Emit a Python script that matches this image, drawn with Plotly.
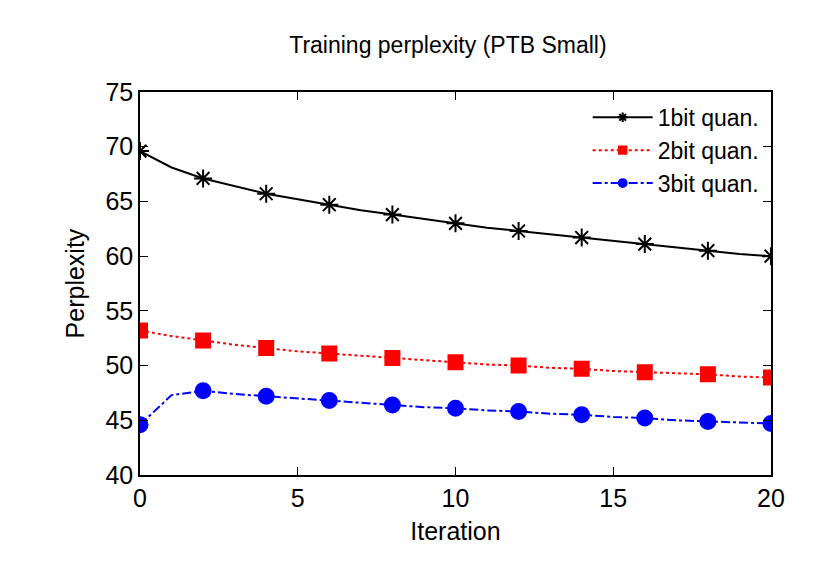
import plotly.graph_objects as go

iters = list(range(0, 21))
q1 = [69.6, 68.1, 67.1, 66.4, 65.7, 65.2, 64.7, 64.2, 63.8, 63.4, 63.0, 62.6, 62.3, 62.0, 61.7, 61.4, 61.1, 60.8, 60.5, 60.2, 60.0]
q2 = [53.2, 52.7, 52.3, 51.9, 51.6, 51.3, 51.1, 50.9, 50.7, 50.5, 50.3, 50.1, 50.0, 49.8, 49.7, 49.5, 49.4, 49.3, 49.2, 49.0, 48.9]
q3 = [44.6, 47.3, 47.7, 47.4, 47.2, 47.0, 46.8, 46.6, 46.4, 46.2, 46.1, 45.9, 45.8, 45.6, 45.5, 45.3, 45.2, 45.0, 44.9, 44.8, 44.7]
names = ["1bit quan.", "2bit quan.", "3bit quan."]

fig = go.Figure()
styles = [
    ("black", "solid", "asterisk-open", 15),
    ("red", "dot", "square", 14),
    ("blue", "dashdot", "circle", 15),
]
for y, n, (c, d, s, sz) in zip([q1, q2, q3], names, styles):
    sizes = [sz if i % 2 == 0 else 0 for i in iters]
    fig.add_trace(go.Scatter(x=iters, y=y, name=n, mode="lines+markers",
                             line=dict(color=c, dash=d, width=2),
                             marker=dict(symbol=s, size=sizes, color=c, opacity=1,
                                         line=dict(color=c, width=2))))

ax = dict(showline=True, mirror="ticks", linecolor="black", linewidth=1.5,
          ticks="inside", ticklen=8, tickcolor="black", showgrid=False, zeroline=False,
          tickfont=dict(size=25, color="black"))
fig.update_layout(
    width=830, height=577, plot_bgcolor="white", paper_bgcolor="white",
    font=dict(family="Liberation Sans, Arial, sans-serif", color="black"),
    margin=dict(l=132, r=67, t=84, b=110),
    title=dict(text="Training perplexity (PTB Small)", x=0.53, xanchor="center", y=0.95, font=dict(size=23)),
    xaxis=dict(range=[0, 20], dtick=5, title=dict(text="Iteration", font=dict(size=25), standoff=12), **ax),
    yaxis=dict(range=[40, 75], dtick=5, title=dict(text="Perplexity", font=dict(size=25), standoff=14), **ax),
    legend=dict(x=0.99, y=0.99, xanchor="right", yanchor="top", bgcolor="rgba(0,0,0,0)",
                font=dict(size=23), itemwidth=60),
)
fig.write_html("out.html")
